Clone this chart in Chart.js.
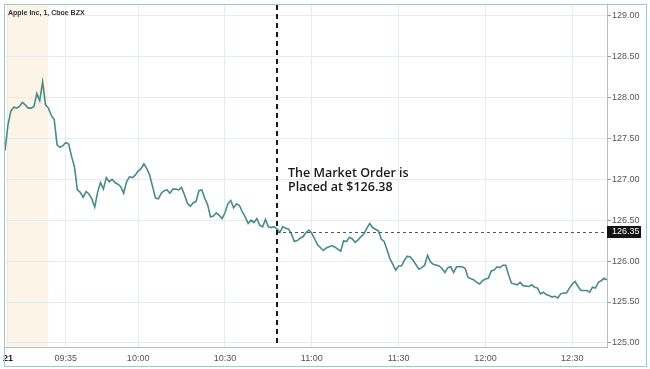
<!DOCTYPE html>
<html>
<head>
<meta charset="utf-8">
<script src="https://cdn.jsdelivr.net/npm/chart.js@4"></script>
<style>
  html, body { margin: 0; padding: 0; background: #fff; }
</style>
</head>
<body>
<canvas id="chart" width="650" height="369"></canvas>
<script>
// one-minute closes, AAPL on Cboe BZX
const times = [
  '09:14','09:15','09:16','09:17','09:18','09:19','09:20','09:21','09:22','09:23',
  '09:24','09:25','09:26','09:27','09:28','09:29','09:30','09:31','09:32','09:33',
  '09:34','09:35','09:36','09:37','09:38','09:39','09:40','09:41','09:42','09:43',
  '09:44','09:45','09:46','09:47','09:48','09:49','09:50','09:51','09:52','09:53',
  '09:54','09:55','09:56','09:57','09:58','09:59',
  '10:00','10:01','10:02','10:03','10:04','10:05','10:06','10:07','10:08','10:09',
  '10:10','10:11','10:12','10:13','10:14','10:15','10:16','10:17','10:18','10:19',
  '10:20','10:21','10:22','10:23','10:24','10:25','10:26','10:27','10:28','10:29',
  '10:30','10:31','10:32','10:33','10:34','10:35','10:36','10:37','10:38','10:39',
  '10:40','10:41','10:42','10:43','10:44','10:45','10:46','10:47','10:48','10:49',
  '10:50','10:51','10:52','10:53','10:54','10:55','10:56','10:57','10:58','10:59',
  '11:00','11:01','11:02','11:04','11:05','11:07','11:08','11:10',
  '11:11','11:12','11:13','11:14','11:15','11:16','11:17','11:18','11:19','11:20',
  '11:21','11:22','11:23','11:24','11:25','11:26','11:27','11:28','11:29','11:30',
  '11:31','11:32','11:33',
  '11:34','11:35','11:37','11:38','11:39','11:40','11:41','11:42','11:44','11:45',
  '11:46','11:47','11:48','11:49','11:50','11:52','11:53','11:54','11:56','11:57',
  '11:58','11:59','12:00','12:01','12:02','12:03','12:04','12:05','12:06','12:07',
  '12:08',
  '12:09','12:10','12:11','12:12','12:13','12:15',
  '12:16','12:17','12:18','12:19','12:20','12:21','12:22','12:23','12:24','12:25',
  '12:26','12:27','12:28','12:29','12:30','12:31','12:32','12:33','12:34','12:35',
  '12:36','12:37','12:38','12:39','12:40','12:41','12:42'
];
const prices = [
  127.35,127.66,127.83,127.88,127.87,127.89,127.94,127.91,127.87,127.87,
  127.89,128.05,127.96,128.19,127.91,127.87,127.78,127.73,127.42,127.39,
  127.41,127.45,127.43,127.28,127.15,126.87,126.84,126.78,126.85,126.82,
  126.76,126.66,126.84,126.96,126.88,127.02,126.97,127.00,126.96,126.94,
  126.91,126.83,126.97,127.03,127.02,127.05,
  127.10,127.13,127.19,127.13,127.05,126.91,126.77,126.76,126.83,126.86,
  126.87,126.83,126.88,126.88,126.87,126.90,126.81,126.71,126.67,126.71,
  126.73,126.86,126.87,126.77,126.69,126.54,126.55,126.59,126.56,126.52,
  126.59,126.70,126.74,126.65,126.70,126.68,126.60,126.54,126.46,126.50,
  126.47,126.52,126.44,126.42,126.51,126.42,126.41,126.42,126.39,126.35,
  126.42,126.40,126.39,126.33,126.24,126.25,126.28,126.30,126.35,126.38,
  126.34,126.27,126.20,126.13,126.16,126.19,126.17,126.12,
  126.25,126.24,126.29,126.27,126.23,126.26,126.30,126.33,126.40,126.46,
  126.41,126.39,126.37,126.27,126.24,126.14,126.03,125.96,125.89,125.94,
  125.94,126.01,126.06,
  126.05,126.01,125.90,125.92,125.95,126.07,125.99,125.96,125.94,125.91,
  125.86,125.92,125.93,125.86,125.93,125.93,125.91,125.80,125.77,125.74,
  125.72,125.76,125.78,125.79,125.88,125.89,125.93,125.92,125.95,125.95,
  125.83,
  125.73,125.72,125.71,125.74,125.70,125.69,
  125.71,125.68,125.67,125.60,125.62,125.59,125.58,125.56,125.57,125.55,
  125.60,125.61,125.61,125.67,125.72,125.75,125.69,125.64,125.64,125.64,
  125.62,125.68,125.67,125.74,125.76,125.79,125.77
];

const xTickTimes = ['09:35', '10:00', '10:30', '11:00', '11:30', '12:00', '12:30'];
const dayLabel = '21';
const dayTime = '09:15';
const yTicks = [125, 125.5, 126, 126.5, 127, 127.5, 128, 128.5, 129];
const preMarket = ['09:15', '09:29'];
const orderTime = '10:48';
const lastPrice = 126.35;
const noteLines = ['The Market Order is', 'Placed at $126.38'];
const title = 'Apple Inc, 1, Cboe BZX';

function toMin(t) {
    const p = t.split(':');
    return parseInt(p[0]) * 60 + parseInt(p[1]);
}

const points = times.map((t, i) => ({ x: toMin(t), y: prices[i] }));

const frameColor = '#a9c5c5';
const gridColor = '#e6ebeb';

const decorations = {
    id: 'decorations',
    beforeDraw(chart) {
        const ctx = chart.ctx, a = chart.chartArea, xs = chart.scales.x;
        ctx.save();
        ctx.fillStyle = '#fff';
        ctx.fillRect(0, 0, chart.width, chart.height);
        ctx.fillStyle = '#fdf4e8';
        const x0 = xs.getPixelForValue(toMin(preMarket[0]));
        const x1 = xs.getPixelForValue(toMin(preMarket[1]));
        ctx.fillRect(x0, a.top, x1 - x0, a.bottom - a.top);
        ctx.restore();
    },
    afterDatasetsDraw(chart) {
        const ctx = chart.ctx, a = chart.chartArea;
        const xs = chart.scales.x, ys = chart.scales.y;
        const ox = Math.round(xs.getPixelForValue(toMin(orderTime)));
        const py = Math.round(ys.getPixelForValue(lastPrice)) + 0.5;
        ctx.save();
        // last price line
        ctx.strokeStyle = '#555';
        ctx.lineWidth = 1;
        ctx.setLineDash([3, 3]);
        ctx.beginPath();
        ctx.moveTo(ox, py);
        ctx.lineTo(a.right, py);
        ctx.stroke();
        // order time line
        ctx.strokeStyle = '#1a1a1a';
        ctx.lineWidth = 2;
        ctx.setLineDash([5, 4]);
        ctx.beginPath();
        ctx.moveTo(ox, a.top);
        ctx.lineTo(ox, a.bottom);
        ctx.stroke();
        ctx.setLineDash([]);
        // note
        ctx.fillStyle = '#1a1a1a';
        ctx.font = '600 12.5px "Open Sans"';
        ctx.textBaseline = 'middle';
        ctx.textAlign = 'left';
        noteLines.forEach((s, i) => {
            ctx.fillText(s, ox + 11, py - 59 + i * 14);
        });
        ctx.restore();
    },
    afterDraw(chart) {
        const ctx = chart.ctx, a = chart.chartArea, ys = chart.scales.y;
        const py = Math.round(ys.getPixelForValue(lastPrice));
        ctx.save();
        // last price tag
        ctx.fillStyle = '#131313';
        ctx.fillRect(a.right, py - 6, 34, 12);
        ctx.fillStyle = '#fff';
        ctx.font = '9px "Liberation Sans"';
        ctx.textBaseline = 'middle';
        ctx.fillText(lastPrice.toFixed(2), a.right + 5, py);
        // title
        ctx.fillStyle = '#333';
        ctx.font = 'bold 7px "Liberation Sans"';
        ctx.fillText(title, 8, 13);
        // outer frame
        ctx.strokeStyle = frameColor;
        ctx.lineWidth = 1;
        ctx.strokeRect(4.5, 4.5, chart.width - 8, chart.height - 7);
        ctx.restore();
    }
};

new Chart(document.getElementById('chart'), {
    type: 'line',
    data: {
        datasets: [{
            data: points,
            borderColor: '#4a8a8d',
            borderWidth: 1.6,
            pointRadius: 0,
            tension: 0,
            fill: false
        }]
    },
    options: {
        responsive: false,
        animation: false,
        devicePixelRatio: 1,
        layout: { padding: { left: 5, top: 5, right: 3, bottom: 3 } },
        plugins: { legend: { display: false }, tooltip: { enabled: false } },
        scales: {
            x: {
                type: 'linear',
                min: toMin(times[0]),
                max: toMin(times[times.length - 1]),
                afterFit: s => {
                    s.height = 19;
                    s.paddingLeft = 0;
                    s.paddingRight = 0;
                },
                afterBuildTicks: s => {
                    s.ticks = [{ value: toMin(dayTime) }].concat(xTickTimes.map(t => ({ value: toMin(t) })));
                },
                grid: { color: gridColor, drawTicks: false },
                border: { color: frameColor },
                ticks: {
                    padding: 6,
                    maxRotation: 0,
                    autoSkip: false,
                    color: c => c.tick && c.tick.value === toMin(dayTime) ? '#222' : '#555',
                    font: c => ({
                        family: 'Liberation Sans',
                        size: 9,
                        weight: c.tick && c.tick.value === toMin(dayTime) ? 'bold' : 'normal'
                    }),
                    callback: v => {
                        if (v === toMin(dayTime)) return dayLabel;
                        const h = Math.floor(v / 60), m = v % 60;
                        return String(h).padStart(2, '0') + ':' + String(m).padStart(2, '0');
                    }
                }
            },
            y: {
                position: 'right',
                min: 124.95,
                max: 129.13,
                afterFit: s => {
                    s.width = 40;
                    s.paddingTop = 0;
                    s.paddingBottom = 0;
                },
                afterBuildTicks: s => { s.ticks = yTicks.map(v => ({ value: v })); },
                grid: { color: gridColor, tickLength: 4, tickColor: '#999' },
                border: { color: frameColor },
                ticks: {
                    padding: 1,
                    color: '#555',
                    font: { family: 'Liberation Sans', size: 9 },
                    callback: v => v.toFixed(2)
                }
            }
        }
    },
    plugins: [decorations]
});
</script>
</body>
</html>
